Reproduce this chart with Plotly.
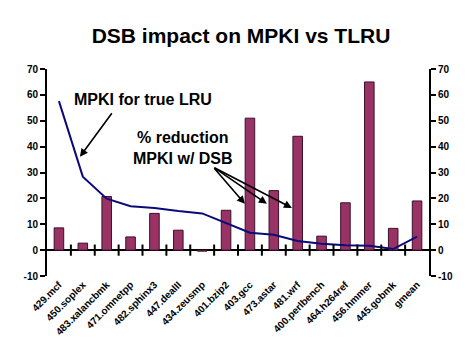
import plotly.graph_objects as go

categories = ["429.mcf", "450.soplex", "483.xalancbmk", "471.omnetpp", "482.sphinx3",
              "447.dealII", "434.zeusmp", "401.bzip2", "403.gcc", "473.astar",
              "481.wrf", "400.perlbench", "464.h264ref", "456.hmmer", "445.gobmk", "gmean"]
reduction_pct = [8.6, 2.7, 20.7, 5.1, 14.2, 7.7, -0.4, 15.4, 51.0, 23.0,
                 44.0, 5.4, 18.3, 65.0, 8.4, 19.0]
mpki_lru = [57.6, 28.4, 19.9, 17.0, 16.3, 15.1, 14.2, 10.6, 6.7, 5.9,
            3.5, 2.5, 1.9, 1.7, 0.4, 5.2]
y_ticks = [-10, 0, 10, 20, 30, 40, 50, 60, 70]

font = "Arial, Liberation Sans, sans-serif"
n = len(categories)
boundaries = [i - 0.5 for i in range(1, n)]

fig = go.Figure()
fig.add_trace(go.Bar(x=list(range(n)), y=reduction_pct,
                     marker=dict(color="#993366", line=dict(color="#3a1028", width=1)),
                     showlegend=False))
fig.add_trace(go.Scatter(x=list(range(n)), y=mpki_lru, mode="lines",
                         line=dict(color="#0a0a78", width=2), showlegend=False))
# category boundary ticks crossing the zero line
fig.add_trace(go.Scatter(x=boundaries, y=[0] * len(boundaries), mode="markers",
                         marker=dict(symbol="line-ns", size=8, color="black", line=dict(color="black", width=2)),
                         showlegend=False, hoverinfo="skip"))
# invisible carrier for the right axis
fig.add_trace(go.Scatter(x=[0], y=[None], yaxis="y2", showlegend=False, hoverinfo="skip"))

yaxis_common = dict(range=[-10, 70], tickvals=y_ticks, ticktext=[f"<b>{v}</b>" for v in y_ticks],
                    showgrid=False, showline=True, linewidth=2, linecolor="#000000",
                    ticks="outside", ticklen=5, tickwidth=2, tickcolor="#000000",
                    tickfont=dict(family=font, size=10, color="black"))

W, H, OFF = 474, 355, 8
fig.update_layout(
    width=W - OFF, height=H - OFF,
    margin=dict(l=47 - OFF, r=45, t=69 - OFF, b=79, autoexpand=False),
    paper_bgcolor="white", plot_bgcolor="white",
    bargap=0.6,
    title=dict(text="<b>DSB impact on MPKI vs TLRU</b>", x=(241 - OFF) / (W - OFF), xanchor="center",
               y=1 - (36 - OFF) / (H - OFF), yanchor="middle",
               font=dict(family=font, size=21, color="black")),
    xaxis=dict(range=[-0.5, n - 0.5], tickvals=list(range(n)),
               ticktext=[f"<b>{c}</b>" for c in categories],
               showline=False, showgrid=False, zeroline=False, ticks="", automargin=False,
               tickangle=-45, tickfont=dict(family=font, size=10, color="black")),
    yaxis=dict(side="left", zeroline=True, zerolinewidth=2, zerolinecolor="#000000", **yaxis_common),
    yaxis2=dict(side="right", overlaying="y", anchor="x", zeroline=False, **yaxis_common),
)

text_font = dict(family=font, size=16, color="black")
fig.add_annotation(x=3.54, y=58.1, xref="x", yref="y", text="<b>MPKI for true LRU</b>",
                   showarrow=False, font=text_font)
fig.add_annotation(x=5.2, y=39.4, xref="x", yref="y", text="<b>% reduction<br>MPKI w/ DSB</b>",
                   showarrow=False, font=text_font)

arrow_style = dict(xref="x", yref="y", text="", showarrow=True, arrowhead=2, arrowsize=1,
                   arrowwidth=1.6, arrowcolor="black")
fig.add_annotation(x=0.88, y=36.1, ax=33, ay=-45, **arrow_style)
fig.add_annotation(x=7.79, y=17.9, ax=-32, ay=-37, **arrow_style)
fig.add_annotation(x=8.71, y=17.9, ax=-54, ay=-37, **arrow_style)
fig.add_annotation(x=9.76, y=16.3, ax=-79, ay=-41, **arrow_style)

fig.write_html("out.html")
